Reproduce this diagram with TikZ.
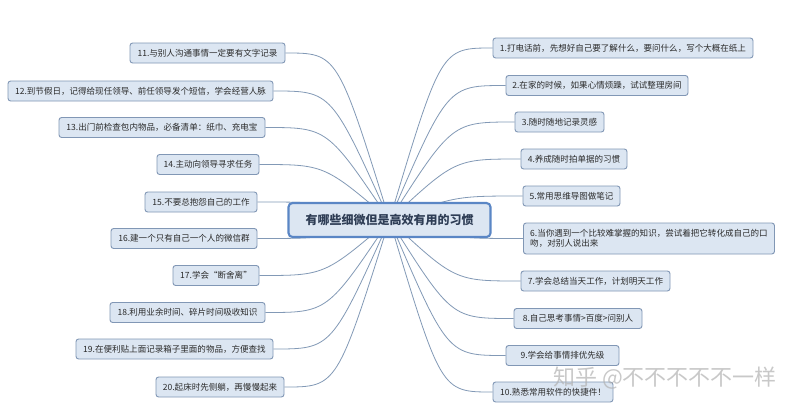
\documentclass[tikz,border=0pt]{standalone}
\usepackage{fontspec}
\setmainfont{Noto Sans CJK SC}
\usetikzlibrary{calc,backgrounds}
\definecolor{leaffill}{HTML}{DCE6F2}
\definecolor{leafborder}{HTML}{8197B5}
\definecolor{leaftext}{HTML}{2B2B2B}
\definecolor{rootborder}{HTML}{5A86C5}
\definecolor{roottext}{HTML}{2E3D55}
\definecolor{conncol}{HTML}{8299B6}
\begin{document}
\begin{tikzpicture}[x=0.75pt,y=-0.75pt,
  leaf/.style={draw=leafborder, fill=leaffill, rounded corners=2pt, line width=0.7pt,
    minimum height=15pt, inner xsep=2pt, inner ysep=1pt, text=leaftext,
    font=\fontsize{6.4}{8}\selectfont},
  root/.style={draw=rootborder, fill=leaffill, rounded corners=3pt, line width=1.6pt,
    minimum width=151.5pt, minimum height=25.5pt, text=roottext,
    font=\fontsize{9}{11}\selectfont\bfseries},
  conn/.style={draw=conncol, line width=0.6pt}]
\useasboundingbox (0,0) rectangle (805,411);

\node[root] (c) at (389.5,220) {有哪些细微但是高效有用的习惯};

% left
\node[leaf, minimum width=116.25pt] (n11) at (207.5,53) {11.与别人沟通事情一定要有文字记录};
\node[leaf, minimum width=198.75pt] (n12) at (140.5,91) {12.到节假日，记得给现任领导、前任领导发个短信，学会经营人脉};
\node[leaf, minimum width=154.5pt] (n13) at (162,127.5) {13.出门前检查包内物品，必备清单：纸巾、充电宝};
\node[leaf, minimum width=76.5pt] (n14) at (208,164.5) {14.主动向领导寻求任务};
\node[leaf, minimum width=84pt] (n15) at (201,202) {15.不要总抱怨自己的工作};
\node[leaf, minimum width=109.5pt] (n16) at (184,238.5) {16.建一个只有自己一个人的微信群};
\node[leaf, minimum width=64.5pt] (n17) at (216,275.5) {17.学会“断舍离”};
\node[leaf, minimum width=116.25pt] (n18) at (187.5,312.5) {18.利用业余时间、碎片时间吸收知识};
\node[leaf, minimum width=147.75pt] (n19) at (174.5,349) {19.在便利贴上面记录箱子里面的物品，方便查找};
\node[leaf, minimum width=96pt] (n20) at (220,387) {20.起床时先侧躺，再慢慢起来};

% right
\node[leaf, minimum width=195pt] (n1) at (623,48) {1.打电话前，先想好自己要了解什么，要问什么，写个大概在纸上};
\node[leaf, minimum width=136.5pt] (n2) at (597,85.5) {2.在家的时候，如果心情烦躁，试试整理房间};
\node[leaf, minimum width=66.75pt] (n3) at (559.5,122) {3.随时随地记录灵感};
\node[leaf, minimum width=79.5pt] (n4) at (574,159) {4.养成随时拍单据的习惯};
\node[leaf, minimum width=72.75pt] (n5) at (571.5,196) {5.常用思维导图做笔记};
\node[leaf, minimum width=188.25pt, minimum height=23.25pt, inner xsep=5pt, align=left, anchor=west] (n6) at (523,238.5) {6.当你遇到一个比较难掌握的知识，尝试着把它转化成自己的口\\吻，对别人说出来};
\node[leaf, minimum width=111.75pt] (n7) at (595.5,281) {7.学会总结当天工作，计划明天工作};
\node[leaf, minimum width=96pt] (n8) at (578,318.5) {8.自己思考事情>百度>问别人};
\node[leaf, minimum width=84.75pt] (n9) at (562.5,355.5) {9.学会给事情排优先级};
\node[leaf, minimum width=90pt] (n10) at (553,392) {10.熟悉常用软件的快捷件！};

\begin{scope}[on background layer]
\fill[white] (0,0) rectangle (805,411);
\foreach \n in {11,...,20}
  \draw[conn] (c.center) .. controls ($(n\n.east)!0.5!(c.center |- n\n.east)$) .. (n\n.east);
\foreach \n in {1,...,10}
  \draw[conn] (c.center) .. controls ($(n\n.west)!0.5!(c.center |- n\n.west)$) .. (n\n.west);
\end{scope}

\node[text=gray!60, opacity=0.7, font=\fontsize{16.5}{18}\selectfont, inner sep=0pt] (wm) at (665,378) {知乎 @不不不不不一样};
\end{tikzpicture}
\end{document}
